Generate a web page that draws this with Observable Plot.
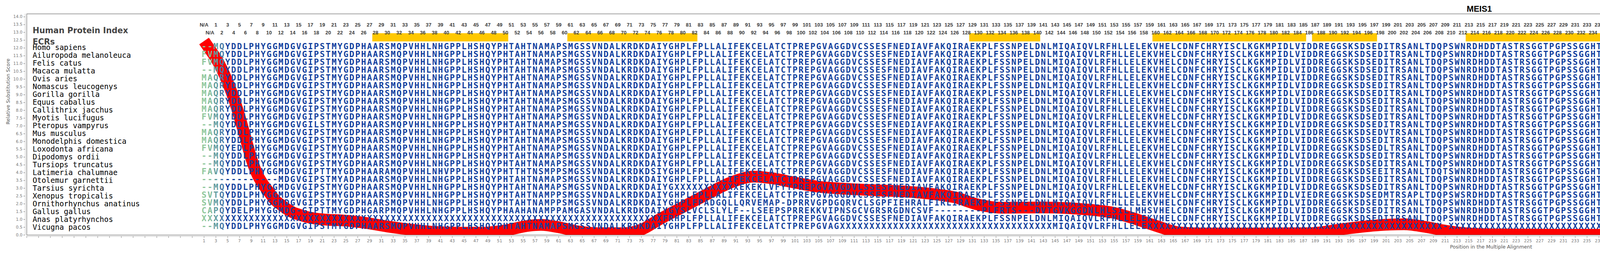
<!DOCTYPE html>
<html><head><meta charset="utf-8">
<script src="https://cdn.jsdelivr.net/npm/d3@7"></script>
<script src="https://cdn.jsdelivr.net/npm/@observablehq/plot@0.6"></script>
<style>
body{margin:0;background:#fff}
#wrap{position:relative;width:7572px;height:650px}
#wrap svg{position:absolute;left:0;top:0}
</style></head><body><div id="wrap"></div>
<script>
// ---------------- DATA ----------------
const species = ["Homo sapiens","Ailuropoda melanoleuca","Felis catus","Macaca mulatta","Ovis aries",
 "Nomascus leucogenys","Gorilla gorilla","Equus caballus","Callithrix jacchus","Myotis lucifugus",
 "Pteropus vampyrus","Mus musculus","Monodelphis domestica","Loxodonta africana","Dipodomys ordii",
 "Tursiops truncatus","Latimeria chalumnae","Otolemur garnettii","Tarsius syrichta","Xenopus tropicalis",
 "Ornithorhynchus anatinus","Gallus gallus","Anas platyrhynchos","Vicugna pacos"];

// Human row of the alignment (positions 1-113, 114-231, 232-349, 350-465)
const humanPart1 = "--MQYDDLPHYGGMDGVGIPSTMYGDPHAARSMQPVHHLNHGPPLHSHQYPHTAHTNAMAPSMGSSVNDALKRDKDAIYGHPLFPLLALIFEKCELATCTPREPGVAGGDVCS";
const humanPart2 = "SESFNEDIAVFAKQIRAEKPLFSSNPELDNLMIQAIQVLRFHLLELEKVHELCDNFCHRYISCLKGKMPIDLVIDDREGGSKSDSEDITRSANLTDQPSWNRDHDDTASTRSGGTPGP";
const humanPart3 = "SSGGHTSHSGDNSSEQGDGLDNSVASPSTGDDDDPDKDKKRHKKRGIFPKVATNIMRAWLFQHLTHPYPSEEQKKQLAQDTGLTILQVNNWFINARRRIVQPMIDQSNRAVSQGTPYN";
const humanPart4 = "PDGQPMGGFVMDGQQHMGIRAPGLQSMPGEYVARGGPMGVSMGQPSYTQPQMPPHPAQLRHGPPMHTYIPGHPHHPTVMMHGGPPHPGMPMSASSPTVLNTGDPTMSGQVMDIHAQ";

// Differences of every species from the human row: [alignment position, residues written from there]
const differences = [
 [],
 [[1,"FVMQ"]],
 [[1,"FVMQ"]],
 [],
 [[1,"MAQR"]],
 [[1,"MAQR"]],
 [[1,"MAQR"]],
 [[1,"MAQR"],[342,"GN"]],
 [[1,"MAQR"],[342,"GN"]],
 [[1,"FVMQ"]],
 [[20,"L"],[397,"S"],[406,"S"]],
 [[1,"MAQR"],[201,"V"],[399,"A"],[426,"A"],[433,"Q"],[446,"S"],[457,"A"]],
 [[1,"MAQR"],[342,"L"],[434,"S"]],
 [[1,"FVMQYE"],[201,"L"]],
 [[25,"A"],[381,"I"],[411,"V"],[418,"-"]],
 [[382,"P"],[389,"MI"],[408,"M"],[420,"R"],[426,"NM"],[430,"L"],[446,"K"]],
 [[1,"FAVQ"],[21,"T"],[32,"A"],[42,"V"],[54,"T"],[58,"S"],[60,"P"],[77,"S"],[200,"E"],[211,"T"],[346,"A"],
  [370,"P"],[375,"G"],[379,"D"],[382,"SQ"],[389,"M"],[398,"P"],[416,"S"],[426,"AM"],[447,"M"],[450,"P"],[456,"G"]],
 [[1,"-------------"],[25,"A"],[381,"I"]],
 [[81,"XXXXXXXXXXXEKEKLVFY"],[108,"V"],[112,"L"]],
 [[1,"SVTQ"],[60,"P"],[188,"E"],[201,"M"],[206,"P"],[214,"S"],[350,"A"],[375,"G"],[379,"S"],[381,"ISPS"],
  [389,"M"],[398,"TS"],[403,"L"],[405,"H"],[412,"TSV"],[422,"H"],[426,"AM"],[440,"I"],[442,"T"],[446,"S"],[456,"G"],[458,"H"]],
 [[1,"SVMQ"],[60,"P"],[86,"ADGQLLQRVEMAP-DPRRVGPDGQRVCL"],[114,"SGPFIEHRALFIRL"],[389,"MN"],[398,"P"],[426,"AM"],[447,"M"]],
 [[1,"CAPQYDELPHYGGMDG-GIPTTMYGDPHGARPMQPVHHLNHGPPLHSHQYPHAAHANAMPPAMGASVNDALKRDKDAIYGYSLVCLSLYLF--LSEEPSPRREKKVIPNSGCV"],
  [114,"GRSRGDNCSVF--------PLFRTS---DVTGVKGGDNLHLSILLMHS"],
  [376,"V"],[379,"D"],[382,"S"],[385,"S"],[389,"MN"],[398,"P"],[426,"AM"],[447,"M"],[449,"HP"],[452,"E"],[454,"AA"]],
 [[1,"X".repeat(78)+"FR"],[379,"D"],[382,"S"],[385,"S"],[389,"MN"],[398,"P"],[426,"AM"],[447,"M"],[449,"H"],[452,"E"],[454,"AV"]],
 [[109,"X".repeat(36)],[162,"X".repeat(49)+"-"+"X".repeat(37)],[297,"X".repeat(26)]]
];

// Evolutionarily conserved regions, in human protein index
const ecrStart = [28,61,129,160,187,213,349,388,413,432,457];
const ecrEnd   = [50,82,140,185,197,339,376,396,423,443,463];

// Relative substitution score (red line)
const scorePosition = [1,2,3,4,5,6,7,8,9,10,11,12,13,14,15,16,17,18,20,22,24,28,32,36,40,44,48,52,56,58,61,64,68,72,75,78,
 82,86,90,94,97,101,105,109,113,120,125,128,132,136,143,151,155,158,162,166,170,180,188,194,200,204,208,211,
 215,219,230,260,300,330,333,336,340,343,346,349,353,356,360,366,371,374,377,381,383,386,390,394,400,409,413,420,428,432,
 436,439,444,449,452,456,459,462,465];
const scoreValue = [12.45,11.9,11.35,10.65,9.8,8.8,7.6,6.25,4.9,3.9,3.25,2.75,2.25,1.95,1.67,1.46,1.32,1.2,1.05,0.98,0.95,
 0.8,0.55,0.35,0.2,0.15,0.15,0.3,0.6,0.65,0.5,0.25,0.12,0.12,0.35,1.0,1.8,2.6,3.35,3.75,3.65,3.36,3.1,2.98,2.9,
 2.78,2.6,2.42,1.95,1.75,1.77,1.62,1.42,1.1,0.6,0.17,0.1,0.1,0.12,0.4,0.64,0.69,0.5,0.28,
 0.1,0.05,0.02,0.02,0.02,0.03,0.1,0.55,0.85,0.95,0.9,0.72,0.35,0.15,0.08,0.08,0.2,0.6,1.2,1.6,1.68,1.5,1.22,1.17,1.17,1.15,1.1,1.0,0.9,0.72,
 0.55,0.65,1.07,1.49,1.52,1.17,0.65,0.3,0.25];

const yTickValues = d3.range(0, 14.001, 0.5);
const xTickValues = d3.range(-29, 466, 2);

// ---------------- BUILD ----------------
const humanSeq = humanPart1 + humanPart2 + humanPart3 + humanPart4;
const sequences = differences.map(subs => {
  const a = humanSeq.split("");
  for (const [start, text] of subs) for (let i = 0; i < text.length; i++) a[start - 1 + i] = text[i];
  return a.join("");
});
sequences.forEach((s, i) => { if (s.length !== 465) throw new Error("bad length " + species[i] + " " + s.length); });
if (scorePosition.length !== scoreValue.length) throw new Error("score arrays mismatch");

const nCol = humanSeq.length;
const conservation = [];
for (let c = 0; c < nCol; c++) {
  const counts = new Map(); let total = 0;
  for (const s of sequences) { const ch = s[c]; if (ch === "X") continue; total++; counts.set(ch, (counts.get(ch) || 0) + 1); }
  conservation.push(total ? d3.max(counts.values()) / total : 1);
}
const cells = [];
sequences.forEach((s, r) => { for (let c = 0; c < s.length; c++) cells.push({pos: c + 1, species: species[r], ch: s[c], cons: conservation[c]}); });

const headerLabels = []; const humanIdxToPos = new Map(); let hi = 0;
for (let c = 0; c < nCol; c++) {
  let label = "N/A";
  if (humanSeq[c] !== "-") { hi++; label = String(hi); humanIdxToPos.set(hi, c + 1); }
  headerLabels.push({pos: c + 1, label});
}
const ecrs = ecrStart.map((s, i) => ({x1: humanIdxToPos.get(s) - 0.5, x2: humanIdxToPos.get(ecrEnd[i]) + 0.5}));
const scoreData = scorePosition.map((p, i) => ({pos: p, score: scoreValue[i]}));

const W = 7572, H = 650, ML = 68, MR = 7, MT = 35, MB = 49;
const xDomain = [-29, 466.5];

const chartB = Plot.plot({
  width: W, height: H, marginLeft: ML, marginRight: MR, marginTop: MT, marginBottom: MB,
  x: {domain: xDomain},
  y: {domain: [0, 14.19]},
  style: {background: "white", fontFamily: "DejaVu Sans", maxWidth: "none", overflow: "visible"},
  marks: [
    Plot.line(scoreData, {x: "pos", y: "score", stroke: "#ff0000", strokeWidth: 30, curve: "monotone-x",
      strokeLinecap: "butt", strokeLinejoin: "round", clip: true}),
    Plot.frame({stroke: "#858585", strokeWidth: 1.5}),
    Plot.ruleX([xDomain[0]], {dx: -4, stroke: "#b8b8b8"}),
    Plot.ruleY([0], {dy: 3.5, stroke: "#b8b8b8"}),
    Plot.axisY(yTickValues, {tickFormat: d => d.toFixed(1), tickSize: 4, tickPadding: 3, dx: -4, fontSize: 10.5, color: "#777", label: null}),
    Plot.axisX(xTickValues, {tickFormat: d => d >= 1 ? String(d) : "", tickSize: 4, tickPadding: 4, dy: 3.5, fontSize: 10.5, color: "#777", label: null}),
    Plot.text(["Relative Substitution Score"], {frameAnchor: "left", rotate: -90, dx: -48, fontSize: 12.5, fill: "#555"}),
    Plot.text(["Position in the Multiple Alignment"], {frameAnchor: "bottom", dy: 34, fontSize: 12.5, fill: "#555"}),
    Plot.text(["MEIS1"], {frameAnchor: "top", dy: -21, dx: -30, fontSize: 21.5, fontWeight: "bold", fill: "#000", fontFamily: "Liberation Sans"})
  ]
});

const chartA = Plot.plot({
  width: W, height: H, marginLeft: ML, marginRight: MR, marginTop: MT, marginBottom: MB,
  x: {domain: xDomain, axis: null},
  y: {type: "point", domain: species, range: [117, 581], padding: 0, axis: null},
  color: {type: "linear", domain: [0.35, 0.5, 0.65, 0.85, 1], range: ["#8fc79b", "#66a39f", "#4a7da8", "#1d4a9f", "#0f3d9e"], interpolate: "rgb"},
  style: {background: "transparent", maxWidth: "none", overflow: "visible"},
  marks: [
    Plot.rect(ecrs, {x1: "x1", x2: "x2", fill: "#ffc800", insetTop: 50, insetBottom: 495}),
    Plot.text(headerLabels.filter(d => d.pos % 2 === 1), {x: "pos", text: "label", frameAnchor: "top", dy: 23,
      fontFamily: "Liberation Sans", fontWeight: "bold", fontSize: 13, fill: "#3d3d3d"}),
    Plot.text(headerLabels.filter(d => d.pos % 2 === 0), {x: "pos", text: "label", frameAnchor: "top", dy: 43,
      fontFamily: "Liberation Sans", fontWeight: "bold", fontSize: 13, fill: "#3d3d3d"}),
    Plot.text(["Human Protein Index"], {frameAnchor: "top-left", dx: 15, dy: 35, textAnchor: "start",
      fontFamily: "DejaVu Sans", fontWeight: "bold", fontSize: 20.5, fill: "#444"}),
    Plot.text(["ECRs"], {frameAnchor: "top-left", dx: 15, dy: 64, textAnchor: "start",
      fontFamily: "DejaVu Sans", fontWeight: "bold", fontSize: 20.5, fill: "#444"}),
    Plot.text(species, {y: d => d, text: d => d, frameAnchor: "left", dx: 15, dy: 2, textAnchor: "start",
      fontFamily: "DejaVu Sans Mono", fontSize: 19, fill: "black", ariaLabel: "species"}),
    Plot.text(cells, {x: "pos", y: "species", text: "ch", fill: "cons",
      fontFamily: "DejaVu Sans Mono", fontWeight: "bold", fontSize: 21})
  ]
});
chartA.querySelectorAll('g[aria-label="species"] text').forEach(t => t.setAttribute("letter-spacing", "2.45"));

const wrap = document.getElementById("wrap");
wrap.appendChild(chartB);
wrap.appendChild(chartA);
</script></body></html>
